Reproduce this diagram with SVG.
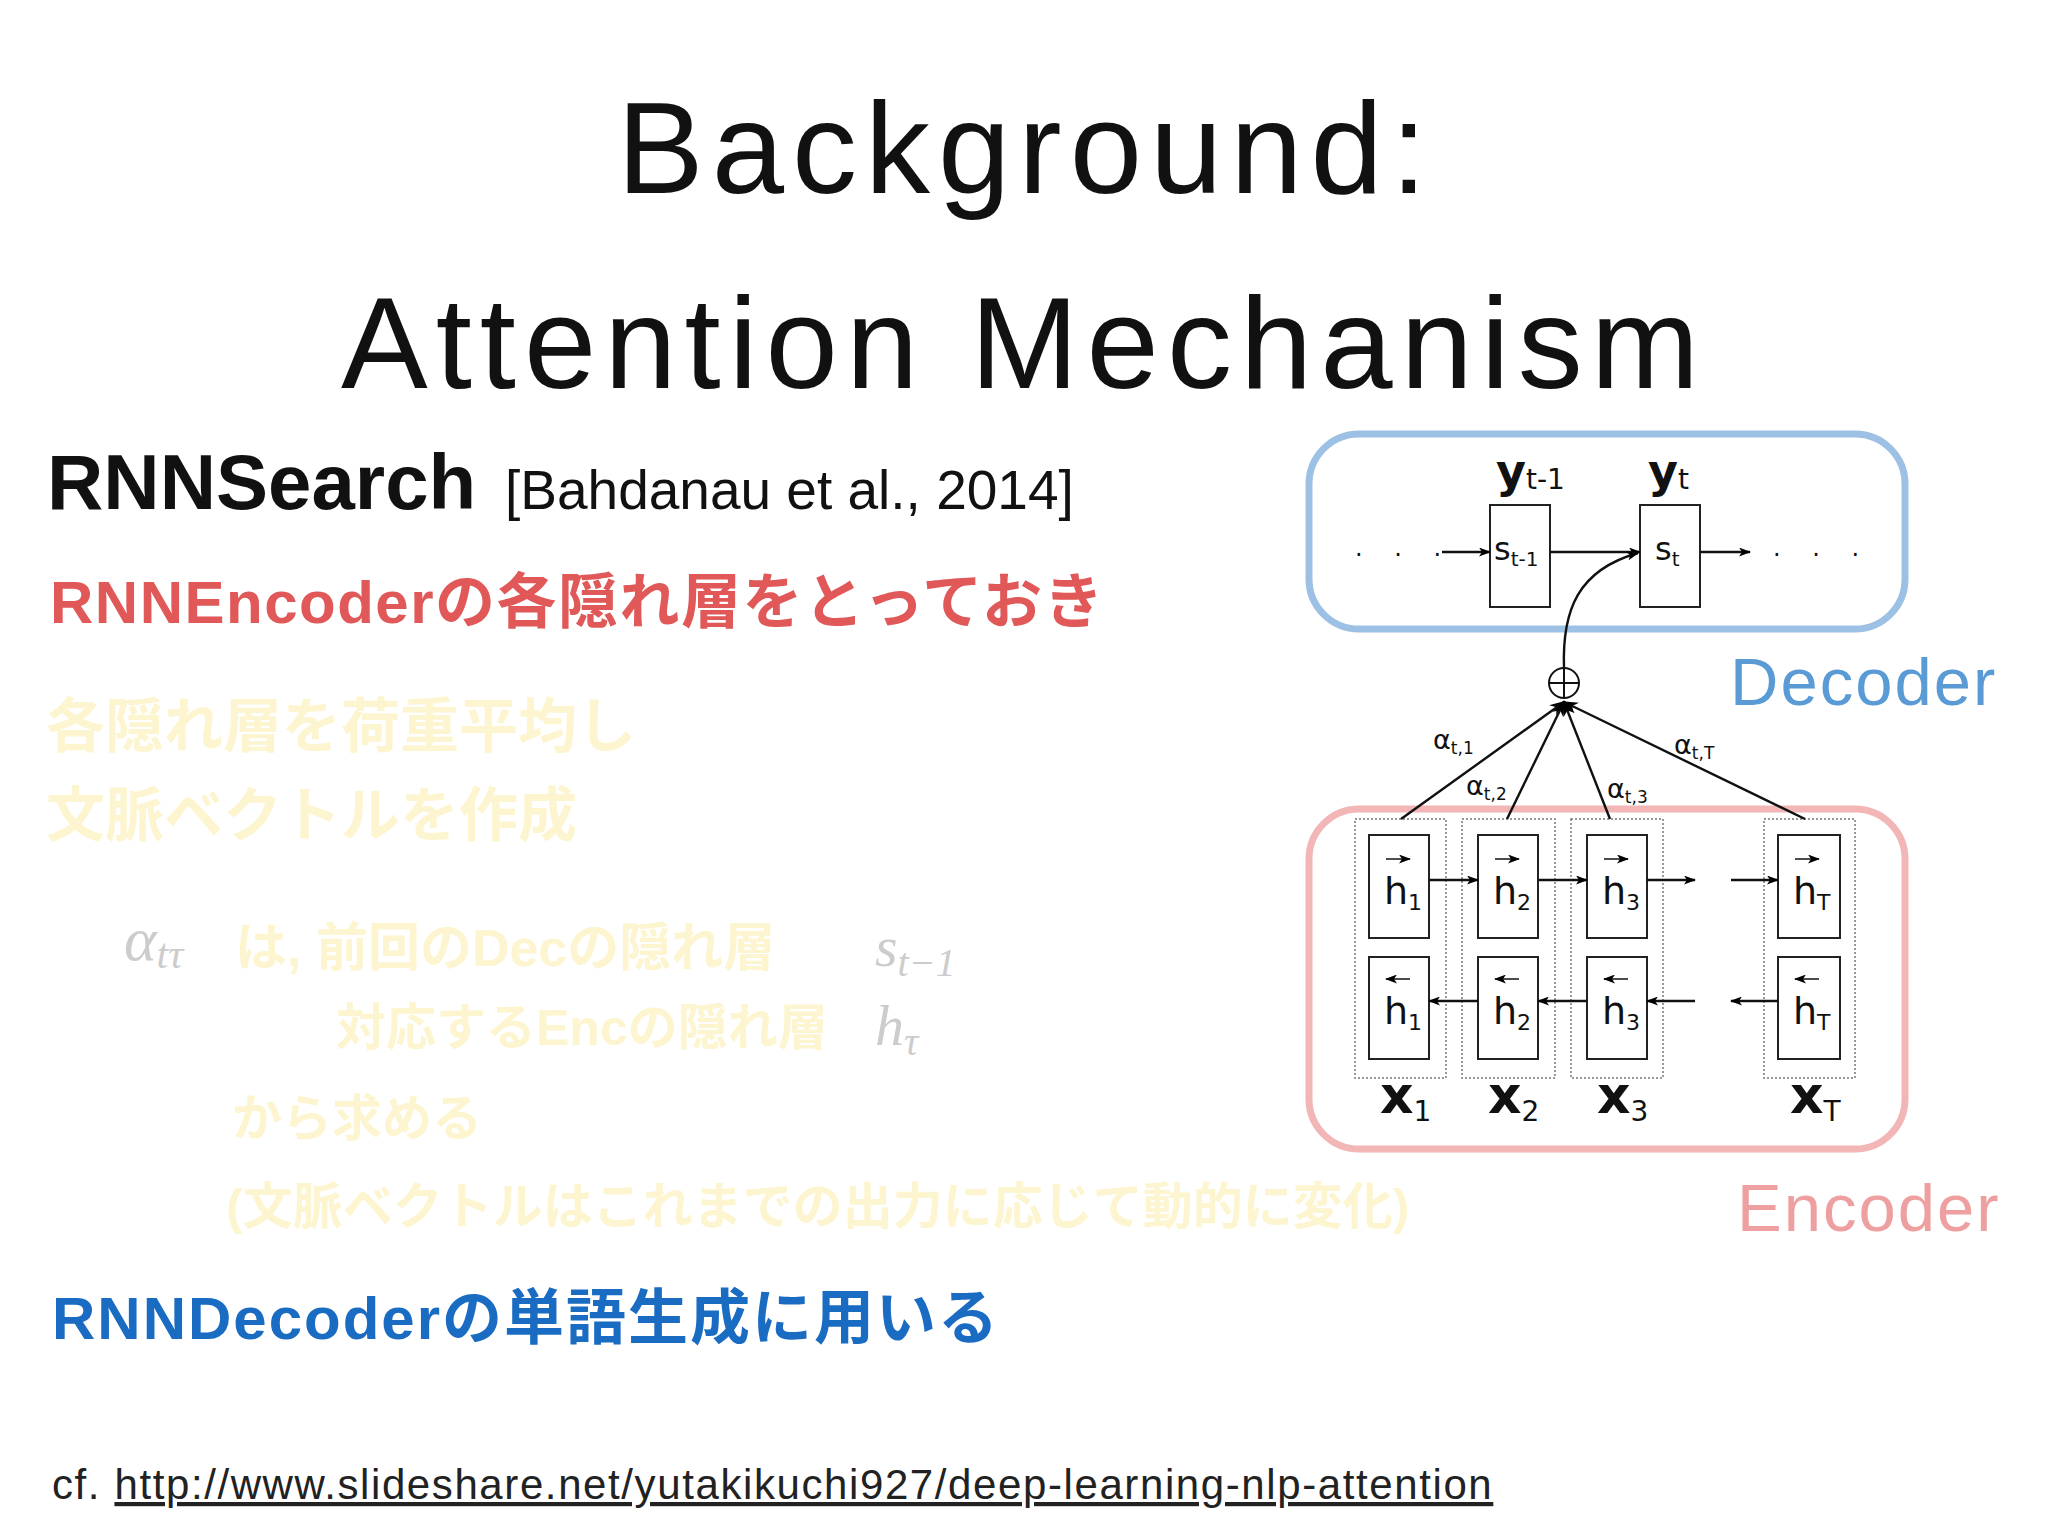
<svg xmlns="http://www.w3.org/2000/svg" width="2048" height="1536" viewBox="0 0 2048 1536">
<defs>
<marker id="ah" markerWidth="12" markerHeight="9" refX="11" refY="4.5" orient="auto" markerUnits="userSpaceOnUse"><path d="M0,0 L12,4.5 L0,9 L3,4.5 Z" fill="#000"/></marker>
<marker id="ahb" markerWidth="16" markerHeight="12" refX="14" refY="6" orient="auto" markerUnits="userSpaceOnUse"><path d="M0,0 L16,6 L0,12 L5,6 Z" fill="#000"/></marker>
</defs>
<style>
.jp{font-family:"Liberation Sans","Noto Sans CJK JP",sans-serif}
.fd{fill:#fdf5cf;font-weight:bold}
.box{fill:#fff;stroke:#222;stroke-width:2}
.col{fill:none;stroke:#777;stroke-width:1.5;stroke-dasharray:2 2}
.ln{stroke:#111;stroke-width:2.4;fill:none}
.dg{font-family:"DejaVu Sans",sans-serif;fill:#111}
.math{font-family:"Liberation Serif",serif;font-style:italic;fill:#ccc}
</style>
<rect width="2048" height="1536" fill="#fff"/>
<g id="title" class="jp" text-anchor="middle" font-size="130" fill="#111" letter-spacing="8">
<text x="1026" y="193">Background:</text>
<text x="1024" y="388">Attention Mechanism</text>
</g>
<g id="text" class="jp">
<text x="47" y="509" font-size="78" font-weight="bold" fill="#111">RNNSearch</text>
<text x="505" y="509" font-size="55" fill="#111">[Bahdanau et al., 2014]</text>
<text x="50" y="623" font-size="60" font-weight="bold" fill="#e05858" letter-spacing="1.5">RNNEncoderの各隠れ層をとっておき</text>
<text x="46" y="747" class="fd" font-size="59">各隠れ層を荷重平均し</text>
<text x="46" y="836" class="fd" font-size="59">文脈ベクトルを作成</text>
<text x="124" y="960" class="math" font-size="62">α<tspan font-size="42" dy="8">tτ</tspan></text>
<text x="235" y="966" class="fd" font-size="52">は,  前回のDecの隠れ層</text>
<text x="875" y="966" class="math" font-size="58">s<tspan font-size="40" dy="10">t−1</tspan></text>
<text x="336" y="1045" class="fd" font-size="50">対応するEncの隠れ層</text>
<text x="875" y="1045" class="math" font-size="58">h<tspan font-size="40" dy="10">τ</tspan></text>
<text x="232" y="1136" class="fd" font-size="50">から求める</text>
<text x="226" y="1224" class="fd" font-size="50">(文脈ベクトルはこれまでの出力に応じて動的に変化)</text>
<text x="52" y="1339" font-size="60" font-weight="bold" fill="#1a6cc2" letter-spacing="2">RNNDecoderの単語生成に用いる</text>
<text x="52" y="1499" font-size="42" fill="#222" letter-spacing="1.6">cf. <tspan text-decoration="underline">http://www.slideshare.net/yutakikuchi927/deep-learning-nlp-attention</tspan></text>
<text x="1730" y="705" font-size="67" fill="#5b9bd5" letter-spacing="2">Decoder</text>
<text x="1737" y="1231" font-size="67" fill="#eea0a0" letter-spacing="2">Encoder</text>
</g>
<g id="decoder">
<rect x="1309" y="434" width="596" height="195" rx="50" fill="none" stroke="#9dc1e4" stroke-width="7"/>
<rect class="box" x="1490" y="505" width="60" height="102"/>
<rect class="box" x="1640" y="505" width="60" height="102"/>
<text class="dg" x="1494" y="560" font-size="32">s<tspan font-size="20" dy="6">t-1</tspan></text>
<text class="dg" x="1655" y="560" font-size="32">s<tspan font-size="20" dy="6">t</tspan></text>
<text class="dg" x="1496" y="487" font-size="46" font-weight="bold">y<tspan font-size="28" font-weight="normal" dy="2">t-1</tspan></text>
<text class="dg" x="1648" y="487" font-size="46" font-weight="bold">y<tspan font-size="28" font-weight="normal" dy="2">t</tspan></text>
<text class="dg" x="1355" y="556" font-size="24" letter-spacing="12">. . .</text>
<text class="dg" x="1773" y="556" font-size="24" letter-spacing="12">. . .</text>
</g>
<g id="encoder">
<rect x="1309" y="809" width="596" height="340" rx="50" fill="none" stroke="#f2b6b6" stroke-width="7"/>
<rect class="col" x="1355" y="819" width="91" height="259"/>
<rect class="col" x="1462" y="819" width="93" height="259"/>
<rect class="col" x="1571" y="819" width="92" height="259"/>
<rect class="col" x="1764" y="819" width="91" height="259"/>
<g class="box">
<rect x="1369" y="835" width="60" height="103"/><rect x="1369" y="957" width="60" height="102"/>
<rect x="1478" y="835" width="60" height="103"/><rect x="1478" y="957" width="60" height="102"/>
<rect x="1587" y="835" width="60" height="103"/><rect x="1587" y="957" width="60" height="102"/>
<rect x="1778" y="835" width="62" height="103"/><rect x="1778" y="957" width="62" height="102"/>
</g>
<g class="dg" font-size="38">
<text x="1384" y="904">h<tspan font-size="22" dy="6">1</tspan></text>
<text x="1493" y="904">h<tspan font-size="22" dy="6">2</tspan></text>
<text x="1602" y="904">h<tspan font-size="22" dy="6">3</tspan></text>
<text x="1793" y="904">h<tspan font-size="22" dy="6">T</tspan></text>
<text x="1384" y="1024">h<tspan font-size="22" dy="6">1</tspan></text>
<text x="1493" y="1024">h<tspan font-size="22" dy="6">2</tspan></text>
<text x="1602" y="1024">h<tspan font-size="22" dy="6">3</tspan></text>
<text x="1793" y="1024">h<tspan font-size="22" dy="6">T</tspan></text>
</g>
<g class="dg" font-size="52" font-weight="bold">
<text x="1380" y="1113">x<tspan font-size="28" font-weight="normal" dy="8">1</tspan></text>
<text x="1488" y="1113">x<tspan font-size="28" font-weight="normal" dy="8">2</tspan></text>
<text x="1597" y="1113">x<tspan font-size="28" font-weight="normal" dy="8">3</tspan></text>
<text x="1790" y="1113">x<tspan font-size="28" font-weight="normal" dy="8">T</tspan></text>
</g>
<g class="dg" font-size="27">
<text x="1433" y="749">α<tspan font-size="17" dy="5">t,1</tspan></text>
<text x="1466" y="795">α<tspan font-size="17" dy="5">t,2</tspan></text>
<text x="1607" y="798">α<tspan font-size="17" dy="5">t,3</tspan></text>
<text x="1674" y="754">α<tspan font-size="17" dy="5">t,T</tspan></text>
</g>
<circle cx="1564" cy="683" r="15" fill="#fff" stroke="#111" stroke-width="2"/>
<path d="M1549 683 H1579 M1564 668 V698" stroke="#111" stroke-width="2"/>
</g>
<g id="connectors">
<g class="ln" marker-end="url(#ah)">
<line x1="1442" y1="552" x2="1490" y2="552"/>
<line x1="1550" y1="552" x2="1640" y2="552"/>
<line x1="1700" y1="552" x2="1750" y2="552"/>
<path d="M1564 668 C1562 610 1578 570 1638 553"/>
<line x1="1429" y1="880" x2="1478" y2="880"/>
<line x1="1538" y1="880" x2="1587" y2="880"/>
<line x1="1647" y1="880" x2="1695" y2="880"/>
<line x1="1731" y1="880" x2="1778" y2="880"/>
<line x1="1478" y1="1001" x2="1429" y2="1001"/>
<line x1="1587" y1="1001" x2="1538" y2="1001"/>
<line x1="1695" y1="1001" x2="1647" y2="1001"/>
<line x1="1778" y1="1001" x2="1731" y2="1001"/>
</g>
<g class="ln" marker-end="url(#ahb)">
<line x1="1401" y1="819" x2="1564" y2="702"/>
<line x1="1507" y1="819" x2="1564" y2="702"/>
<line x1="1610" y1="819" x2="1564" y2="702"/>
<line x1="1805" y1="819" x2="1564" y2="702"/>
</g>
<g stroke="#111" stroke-width="1.5" marker-end="url(#ah)">
<line x1="1386" y1="859" x2="1410" y2="859"/><line x1="1495" y1="859" x2="1519" y2="859"/>
<line x1="1604" y1="859" x2="1628" y2="859"/><line x1="1795" y1="859" x2="1819" y2="859"/>
<line x1="1410" y1="979" x2="1386" y2="979"/><line x1="1519" y1="979" x2="1495" y2="979"/>
<line x1="1628" y1="979" x2="1604" y2="979"/><line x1="1819" y1="979" x2="1795" y2="979"/>
</g>
</g>
</svg>
